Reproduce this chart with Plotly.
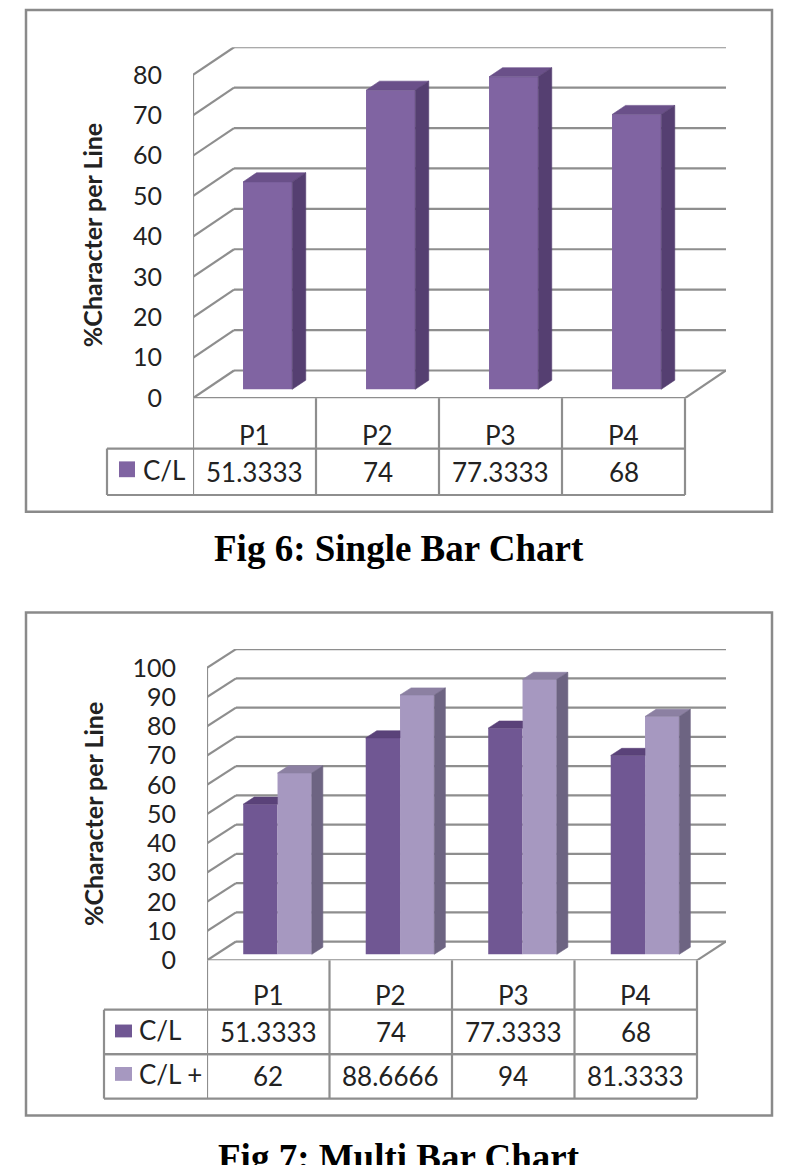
import plotly.graph_objects as go

W, H = 790, 1165

# ---------------- data ----------------
categories = ["P1", "P2", "P3", "P4"]
cl_values = [51.3333, 74, 77.3333, 68]
cl_plus_values = [62, 88.6666, 94, 81.3333]
cl_labels = ["51.3333", "74", "77.3333", "68"]
cl_plus_labels = ["62", "88.6666", "94", "81.3333"]
series_names = ["C/L", "C/L +"]
fig6_ticks = [0, 10, 20, 30, 40, 50, 60, 70, 80]
fig7_ticks = [0, 10, 20, 30, 40, 50, 60, 70, 80, 90, 100]
y_title = "%Character per Line"
captions = ["Fig 6: Single Bar Chart", "Fig 7: Multi Bar Chart"]

# ---------------- style ----------------
GRID = "#8e8e8e"
FRAME = "#8a8a8a"
TXT = "#222222"
FONT = "Lato"
SERIF = "Liberation Serif"

fig6_colors = [dict(front="#8064a2", side="#553f71", top="#6a5089", legend="#8064a2")]
fig7_colors = [dict(front="#705793", side="#4e3b68", top="#5a4279", legend="#705793"),
               dict(front="#a698c0", side="#6d6482", top="#8c80a2", legend="#a698c0")]

g1 = dict(fx0=193, fx1=685, fy0=403, s=4.09, dx=41, dy=28, f0=0.32, f1=0.65, bw=0.40,
          hdr_text=440, rows=[(454, 501)], leg_left=107, frame=(26, 10, 772, 518),
          cap_y=555, title_x=92, title_y=238,
          sq=[(119, 467, 135, 483)], leg_text_x=141)
g2 = dict(fx0=207, fx1=697, fy0=972, s=2.96, dx=29, dy=19, f0=0.32, f1=0.70, bw=0.28,
          hdr_text=1007, rows=[(1022, 1067), (1067, 1112)], leg_left=104, frame=(26, 620, 772, 1129),
          cap_y=1172, title_x=93, title_y=824,
          sq=[(115, 1037, 132, 1050), (115, 1080, 132, 1094)], leg_text_x=137)


def px2x(p):
    return p / W


def px2y(p):
    return 1 - p / H


fig = go.Figure()
shapes = []
annotations = []


def add_chart(n, g, series, ticks, caption):
    xa = "x" if n == 1 else f"x{n}"
    ya = "y" if n == 1 else f"y{n}"
    xkey = "xaxis" if n == 1 else f"xaxis{n}"
    ykey = "yaxis" if n == 1 else f"yaxis{n}"
    ncat = len(categories)
    unit = (g["fx1"] - g["fx0"]) / ncat
    ddx = g["dx"] / unit
    ddy = g["dy"] / g["s"]
    vmax = ticks[-1]
    yr = [0, vmax + ddy]
    top_px = g["fy0"] - yr[1] * g["s"]

    fig.layout[xkey] = dict(domain=[px2x(g["fx0"]), px2x(g["fx1"] + g["dx"])],
                            range=[-0.5, ncat - 0.5 + ddx], anchor=ya, visible=False,
                            fixedrange=True)
    fig.layout[ykey] = dict(domain=[px2y(g["fy0"]), px2y(top_px)], range=yr, anchor=xa,
                            tickvals=ticks, ticktext=[str(t) for t in ticks],
                            ticks="outside", ticklen=25, tickcolor="rgba(0,0,0,0)",
                            showgrid=False, zeroline=False, showline=False,
                            tickfont=dict(family=FONT, size=25, color=TXT), fixedrange=True)

    # ---- walls / gridlines ----
    x_front0 = -0.5
    x_front1 = ncat - 0.5
    gl = dict(color=GRID, width=2.2)
    for t in ticks:
        shapes.append(dict(type="line", xref=xa, yref=ya, x0=x_front0 + ddx, x1=x_front1 + ddx,
                           y0=t + ddy, y1=t + ddy, line=gl, layer="below"))
        shapes.append(dict(type="line", xref=xa, yref=ya, x0=x_front0, x1=x_front0 + ddx,
                           y0=t, y1=t + ddy, line=gl, layer="below"))
    shapes.append(dict(type="line", xref=xa, yref=ya, x0=x_front0, x1=x_front0, y0=0, y1=vmax,
                       line=gl, layer="below"))
    shapes.append(dict(type="line", xref=xa, yref=ya, x0=x_front0, x1=x_front1, y0=0, y1=0,
                       line=gl, layer="below"))
    shapes.append(dict(type="line", xref=xa, yref=ya, x0=x_front1, x1=x_front1 + ddx, y0=0, y1=ddy,
                       line=gl, layer="below"))

    # ---- bars ----
    K = len(series)
    bw = g["bw"]
    f0, f1 = g["f0"], g["f1"]
    dd = f1 - f0
    base = f0 * ddy
    for k, (name, vals, labels, col) in enumerate(series):
        centers = [i - K * bw / 2 + bw * (k + 0.5) + f0 * ddx for i in range(ncat)]
        fig.add_trace(go.Bar(x=centers, y=vals, base=[base] * ncat, width=bw,
                             marker=dict(color=col["front"], line=dict(width=0)),
                             name=name, xaxis=xa, yaxis=ya, hoverinfo="skip"))
        tx, ty = [], []
        sx, sy = [], []
        for c, v in zip(centers, vals):
            xl, xr = c - bw / 2, c + bw / 2
            yt = base + v
            if k == K - 1:
                tx += [xl, xr, xr + dd * ddx, xl + dd * ddx, xl, None]
                ty += [yt, yt, yt + dd * ddy, yt + dd * ddy, yt, None]
                sx += [xr, xr + dd * ddx, xr + dd * ddx, xr, xr, None]
                sy += [base, base + dd * ddy, yt + dd * ddy, yt, base, None]
            else:
                tx += [xl, xr, xr, xl + dd * ddx, xl, None]
                ty += [yt, yt, yt + dd * ddy, yt + dd * ddy, yt, None]
        fig.add_trace(go.Scatter(x=tx, y=ty, mode="lines", fill="toself", fillcolor=col["top"],
                                 line=dict(width=0.6, color=col["top"]), xaxis=xa, yaxis=ya,
                                 hoverinfo="skip"))
        if sx:
            fig.add_trace(go.Scatter(x=sx, y=sy, mode="lines", fill="toself", fillcolor=col["side"],
                                     line=dict(width=0.6, color=col["side"]), xaxis=xa, yaxis=ya,
                                     hoverinfo="skip"))

    # ---- data table ----
    tl = dict(color=GRID, width=2.2)
    tbl_bottom = g["rows"][-1][1]
    for j in range(ncat + 1):
        shapes.append(dict(type="line", xref=xa, yref="paper", x0=j - 0.5, x1=j - 0.5,
                           y0=px2y(g["fy0"]), y1=px2y(tbl_bottom), line=tl))
    shapes.append(dict(type="line", xref="paper", yref="paper", x0=px2x(g["leg_left"]),
                       x1=px2x(g["leg_left"]), y0=px2y(g["rows"][0][0]), y1=px2y(tbl_bottom),
                       line=tl))
    for (r0, r1) in g["rows"]:
        for yy in (r0, r1):
            shapes.append(dict(type="line", xref="paper", yref="paper", x0=px2x(g["leg_left"]),
                               x1=px2x(g["fx1"]), y0=px2y(yy), y1=px2y(yy), line=tl))
    for i, cat in enumerate(categories):
        annotations.append(dict(text=cat, x=i, y=px2y(g["hdr_text"]), xref=xa, yref="paper",
                                showarrow=False, font=dict(family=FONT, size=26, color=TXT),
                                xanchor="center", yanchor="middle"))
    for (name, vals, labels, col), (r0, r1), sq in zip(series, g["rows"], g["sq"]):
        yc = (r0 + r1) / 2
        for i, lab in enumerate(labels):
            annotations.append(dict(text=lab, x=i, y=px2y(yc), xref=xa, yref="paper",
                                    showarrow=False, font=dict(family=FONT, size=26, color=TXT),
                                    xanchor="center", yanchor="middle"))
        shapes.append(dict(type="rect", xref="paper", yref="paper", x0=px2x(sq[0]), x1=px2x(sq[2]),
                           y0=px2y(sq[1]), y1=px2y(sq[3]), fillcolor=col["legend"],
                           line=dict(width=0)))
        annotations.append(dict(text=name, x=px2x(g["leg_text_x"]), y=px2y(yc - 2), xref="paper",
                                yref="paper", showarrow=False, xanchor="left", yanchor="middle",
                                font=dict(family=FONT, size=26, color=TXT)))

    # ---- axis title ----
    annotations.append(dict(text="<b>" + y_title + "</b>", x=px2x(g["title_x"]), y=px2y(g["title_y"]),
                            xref="paper", yref="paper", showarrow=False, textangle=-90,
                            xanchor="center", yanchor="middle",
                            font=dict(family=FONT, size=25, color=TXT)))
    # ---- frame ----
    fx = g["frame"]
    shapes.append(dict(type="rect", xref="paper", yref="paper", x0=px2x(fx[0]), x1=px2x(fx[2]),
                       y0=px2y(fx[1]), y1=px2y(fx[3]), line=dict(color=FRAME, width=2.5),
                       fillcolor="rgba(0,0,0,0)", layer="below"))
    # ---- caption ----
    annotations.append(dict(text="<b>" + caption + "</b>", x=0.505, y=px2y(g["cap_y"]), xref="paper",
                            yref="paper", showarrow=False, xanchor="center", yanchor="middle",
                            font=dict(family=SERIF, size=37, color="#000000")))


add_chart(1, g1, [(series_names[0], cl_values, cl_labels, fig6_colors[0])], fig6_ticks, captions[0])
add_chart(2, g2, [(series_names[0], cl_values, cl_labels, fig7_colors[0]),
                  (series_names[1], cl_plus_values, cl_plus_labels, fig7_colors[1])],
          fig7_ticks, captions[1])

fig.update_layout(width=W, height=H, margin=dict(l=0, r=0, t=0, b=0),
                  paper_bgcolor="white", plot_bgcolor="rgba(0,0,0,0)",
                  showlegend=False, barmode="overlay", shapes=shapes, annotations=annotations)

fig.write_html("out.html")
